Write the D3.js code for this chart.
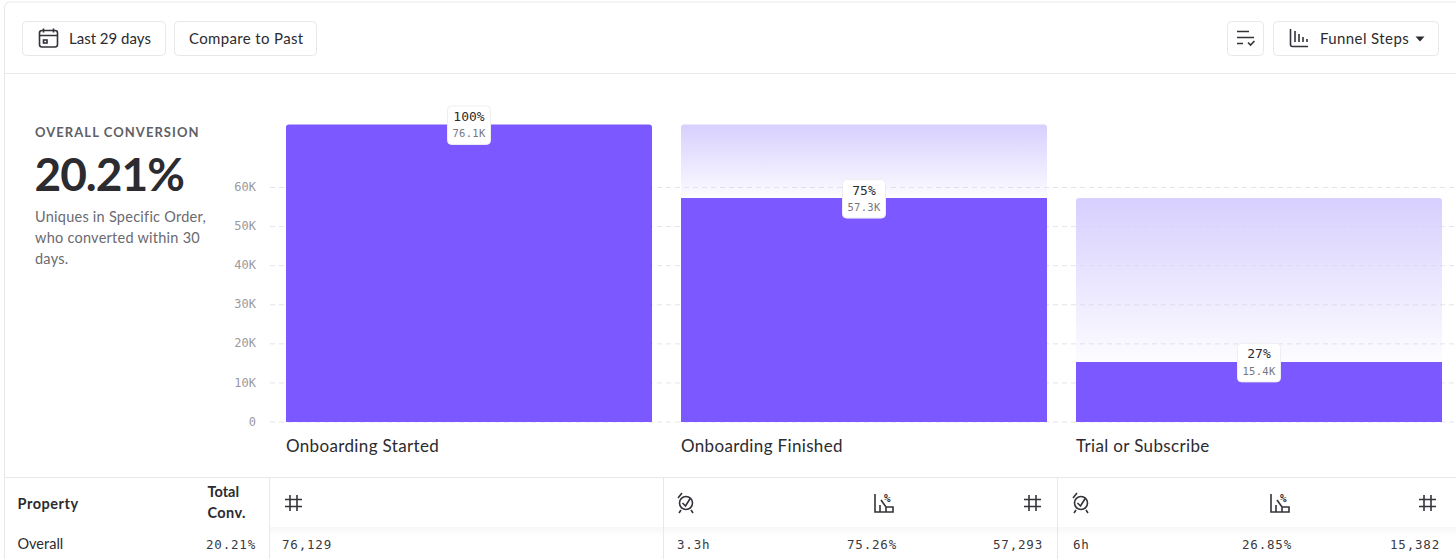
<!DOCTYPE html>
<html><head><meta charset="utf-8">
<script src="https://cdn.jsdelivr.net/npm/d3@7"></script>
<style>
html,body{margin:0;padding:0;background:#fff;overflow:hidden}
svg{display:block}
text{font-family:Lato,"Noto Sans",sans-serif;fill:#2b2b30}
.mono{font-family:"DejaVu Sans Mono","Liberation Mono",monospace}
</style></head><body>
<svg id="c" width="1456" height="559"></svg>
<script>
const steps=["Onboarding Started","Onboarding Finished","Trial or Subscribe"];
const counts=[76129,57293,15382];
const pctLabels=["100%","75%","27%"];
const shortLabels=["76.1K","57.3K","15.4K"];
const ticks=[0,10000,20000,30000,40000,50000,60000];
const tickLabels=["0","10K","20K","30K","40K","50K","60K"];
const rowLabel="Overall", totalConv="20.21%";
const rowStart="76,129";
const rowMid=["3.3h","75.26%","57,293"];
const rowEnd=["6h","26.85%","15,382"];

const svg=d3.select("#c");
const border="#e8e8ea", purple="#7b58ff";
const y=d3.scaleLinear().domain([0,60000]).range([422,187.5]);
const x=d3.scaleBand().domain(steps).range([286,1442]).paddingInner(29/395).paddingOuter(0);
const defs=svg.append("defs");
const g=defs.append("linearGradient").attr("id","ghost").attr("x1",0).attr("x2",0).attr("y1",0).attr("y2",1);
g.append("stop").attr("offset","0%").attr("stop-color","#d7cffe");
g.append("stop").attr("offset","100%").attr("stop-color","#d7cffe").attr("stop-opacity",0.06);
const sh=defs.append("linearGradient").attr("id","rowshade").attr("x1",0).attr("x2",0).attr("y1",0).attr("y2",1);
sh.append("stop").attr("offset","0%").attr("stop-color","#f7f7fa");
sh.append("stop").attr("offset","100%").attr("stop-color","#ffffff");

// frame
svg.append("path").attr("d","M4.5 559V8q0-6 6-6H1456").attr("fill","none").attr("stroke",border);
svg.append("line").attr("x1",4).attr("x2",1456).attr("y1",73.5).attr("y2",73.5).attr("stroke",border);
svg.append("line").attr("x1",4).attr("x2",1456).attr("y1",477.5).attr("y2",477.5).attr("stroke",border);

// toolbar
function btn(x0,w){svg.append("rect").attr("x",x0+.5).attr("y",21.5).attr("width",w).attr("height",34).attr("rx",4).attr("fill","#fff").attr("stroke",border);}
btn(22,143);btn(174,142);btn(1227,36);btn(1273,165);
const ic=svg.append("g").attr("fill","none").attr("stroke","#33333a").attr("stroke-width",1.6);
ic.append("rect").attr("x",39.5).attr("y",30.5).attr("width",18).attr("height",16.5).attr("rx",2.5);
ic.append("path").attr("d","M39.5 35.5h18M43.5 28.5v4M53.5 28.5v4");
ic.append("rect").attr("x",43.5).attr("y",40).attr("width",3.5).attr("height",3);
ic.append("path").attr("d","M1237 31.5h12M1237 37.5h17M1237 43.5h6M1248 42.5l2.5 2.5 4-4");
ic.append("path").attr("d","M1290.5 29v15.5q0 2 2 2H1308M1295 31v11M1299 34v8M1303 37v5M1307 39v3");
svg.append("text").attr("x",69).attr("y",43.5).attr("font-size",15).text("Last 29 days");
svg.append("text").attr("x",189).attr("y",43.5).attr("font-size",15).attr("letter-spacing",.35).text("Compare to Past");
svg.append("text").attr("x",1320).attr("y",43.5).attr("font-size",15).attr("letter-spacing",.4).text("Funnel Steps");
svg.append("path").attr("d","M1415.5 36.5h9l-4.5 5z").attr("fill","#2b2b30");

// left summary
svg.append("text").attr("x",35).attr("y",137).attr("font-size",13).attr("font-weight",700).attr("letter-spacing",1.05).style("fill","#5f5f66").text("OVERALL CONVERSION");
svg.append("text").attr("x",34.5).attr("y",191).attr("font-size",46).attr("font-weight",700).attr("letter-spacing",-1).style("fill","#2b2b30").text("20.21%");
["Uniques in Specific Order,","who converted within 30","days."].forEach((t,i)=>
 svg.append("text").attr("x",35).attr("y",222+i*21).attr("font-size",14.5).attr("letter-spacing",.25).style("fill","#6a6a70").text(t));

// grid + axis
const gridG=svg.append("g");
gridG.selectAll("line").data(ticks).join("line")
 .attr("x1",270).attr("x2",1456).attr("y1",d=>y(d)).attr("y2",d=>y(d))
 .attr("stroke","#e4e4ea").attr("stroke-dasharray","5 4");
const axis=d3.axisLeft(y).tickValues(ticks).tickFormat((d,i)=>tickLabels[i]).tickSize(0).tickPadding(0);
const ax=svg.append("g").attr("transform","translate(256,-1)").call(axis);
ax.select(".domain").remove();
ax.selectAll("text").attr("class","mono").attr("font-size",12).style("fill","#9a9aa0").attr("dy","0.34em");

// bars
function topRound(x0,y0,w,h,r){return `M${x0} ${y0+h}V${y0+r}q0-${r} ${r}-${r}H${x0+w-r}q${r} 0 ${r} ${r}V${y0+h}z`;}
const bw=x.bandwidth();
svg.append("g").selectAll("path").data(steps.slice(1)).join("path")
 .attr("d",(d,i)=>topRound(x(d),y(counts[i]),bw,y(counts[i+1])-y(counts[i]),3))
 .attr("fill","url(#ghost)");
svg.append("g").selectAll("path").data(steps).join("path")
 .attr("d",(d,i)=>i==0?topRound(x(d),y(counts[i]),bw,y(0)-y(counts[i]),3):`M${x(d)} ${y(counts[i])}h${bw}V${y(0)}h${-bw}z`)
 .attr("fill",purple);

// bar labels
const lab=svg.append("g").selectAll("g").data(steps).join("g")
 .attr("transform",(d,i)=>`translate(${x(d)+bw/2},${y(counts[i])})`);
lab.append("rect").attr("x",-21.5).attr("y",-18.5).attr("width",43).attr("height",38.5).attr("rx",4)
 .attr("fill","#fff").attr("stroke","#eeeef2");
lab.append("text").attr("class","mono").attr("text-anchor","middle").attr("y",-3.5).attr("font-size",13).text((d,i)=>pctLabels[i]);
lab.append("text").attr("class","mono").attr("text-anchor","middle").attr("y",13).attr("font-size",10.5).attr("letter-spacing",.3).style("fill","#77777d").text((d,i)=>shortLabels[i]);
svg.append("g").selectAll("text").data(steps).join("text")
 .attr("x",d=>x(d)).attr("y",451.5).attr("font-size",17).attr("letter-spacing",.35).text(d=>d);

// table
svg.append("rect").attr("x",270).attr("y",527).attr("width",1186).attr("height",10).attr("fill","url(#rowshade)");
[269.5,663.5,1057.5].forEach(v=>svg.append("line").attr("x1",v).attr("x2",v).attr("y1",478).attr("y2",559).attr("stroke",border));
svg.append("text").attr("x",17.5).attr("y",509).attr("font-size",14.5).attr("font-weight",700).attr("letter-spacing",.55).text("Property");
svg.append("text").attr("x",207.5).attr("y",497).attr("font-size",14.5).attr("font-weight",700).text("Total");
svg.append("text").attr("x",207.5).attr("y",518).attr("font-size",14.5).attr("font-weight",700).attr("letter-spacing",.4).text("Conv.");
function hash(x0){ic.append("path").attr("d",`M${x0+5} 495v16M${x0+12} 495v16M${x0} 499.5h17M${x0} 506.5h17`);}
function clock(x0){ic.append("circle").attr("cx",x0+8).attr("cy",503).attr("r",6.5);
 ic.append("path").attr("d",`M${x0+4.5} 503l3 3 5-8M${x0+3} 510l-2 3M${x0+13} 510l2 3M${x0} 498l4-5`);}
function conv(x0){ic.append("path").attr("d",`M${x0} 494v18h18v-5h-7l-5-7M${x0+5} 512v-7M${x0+11} 512v-5`);
 svg.append("text").attr("class","mono").attr("x",x0+9).attr("y",502).attr("font-size",11).attr("font-weight",700).text("%");}
hash(285);clock(678);conv(875);hash(1024);clock(1073);conv(1271);hash(1419);
svg.append("text").attr("x",17.5).attr("y",549).attr("font-size",14.5).text(rowLabel);
function cell(xp,t,anchor){svg.append("text").attr("class","mono").attr("x",xp).attr("y",549).attr("font-size",12.5).attr("letter-spacing",.8).attr("text-anchor",anchor).style("fill","#3a3a40").text(t);}
cell(256,totalConv,"end");cell(282,rowStart,"start");
[[677,"start"],[897,"end"],[1043,"end"]].forEach((p,i)=>cell(p[0],rowMid[i],p[1]));
[[1073,"start"],[1292,"end"],[1440,"end"]].forEach((p,i)=>cell(p[0],rowEnd[i],p[1]));
</script></body></html>
